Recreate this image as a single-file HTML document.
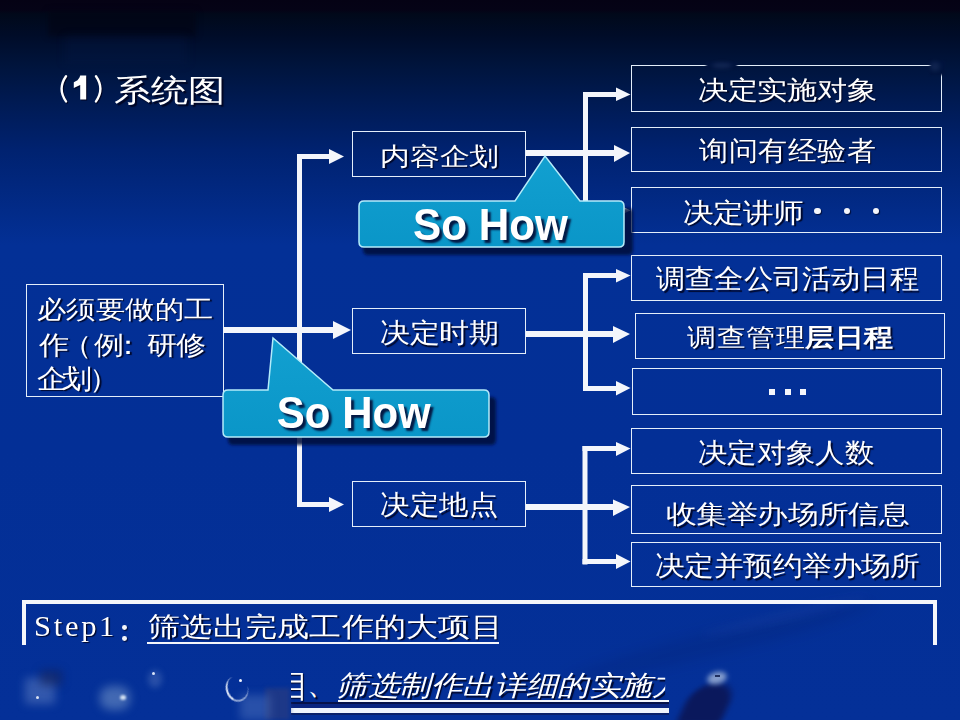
<!DOCTYPE html>
<html><head><meta charset="utf-8">
<style>
html,body{margin:0;padding:0;}
body{width:960px;height:720px;overflow:hidden;position:relative;
 font-family:"Liberation Sans", sans-serif;
 background:linear-gradient(to bottom,rgb(5,2,20) 0px,rgb(5,3,22) 10px,rgb(1,9,26) 14px,rgb(0,12,40) 35px,rgb(0,20,60) 65px,rgb(0,34,112) 150px,rgb(3,48,150) 245px,rgb(3,47,150) 450px,rgb(4,48,152) 720px);}
.box{position:absolute;box-sizing:border-box;border:1.7px solid #e4eefa;}
.t{position:absolute;color:#fff;white-space:nowrap;text-shadow:1.5px 1.5px 1px rgba(0,0,25,0.85);}
.ul{position:absolute;background:#f4f6fb;}
.t{transform-origin:0 0;}
.dot{position:absolute;width:6.2px;height:6.2px;border-radius:50%;background:#f4f6fb;box-shadow:1px 1px 1px rgba(0,0,25,0.7);}
svg{position:absolute;left:0;top:0;}
</style></head><body>

<div style="position:absolute;left:560px;top:630px;width:320px;height:24px;background:rgba(0,12,70,0.13);transform:rotate(-14deg);border-radius:50%;filter:blur(7px);"></div>
<div style="position:absolute;left:700px;top:612px;width:170px;height:8px;background:rgba(90,130,230,0.10);transform:rotate(-13deg);border-radius:50%;filter:blur(4px);"></div>
<!-- left box -->
<div class="box" style="left:26px;top:284px;width:198px;height:113px;"></div>
<!-- middle boxes -->
<div class="box" style="left:352px;top:131px;width:174px;height:46px;"></div>
<div class="box" style="left:352px;top:308px;width:174px;height:46px;"></div>
<div class="box" style="left:352px;top:481px;width:174px;height:46px;"></div>
<!-- right boxes -->
<div class="box" style="left:631px;top:65px;width:311px;height:47px;"></div>
<div class="box" style="left:631px;top:127px;width:311px;height:45px;"></div>
<div class="box" style="left:631px;top:187px;width:311px;height:46px;"></div>
<div class="box" style="left:631px;top:255px;width:311px;height:46px;"></div>
<div class="box" style="left:635px;top:313px;width:310px;height:46px;"></div>
<div class="box" style="left:632px;top:368px;width:310px;height:47px;"></div>
<div class="box" style="left:631px;top:428px;width:311px;height:46px;"></div>
<div class="box" style="left:631px;top:485px;width:311px;height:49px;"></div>
<div class="box" style="left:631px;top:542px;width:310px;height:45px;"></div>

<div style="position:absolute;left:706px;top:62px;width:31px;height:7px;background:rgb(1,20,62);filter:blur(1.2px);"></div>
<div style="position:absolute;left:712px;top:63px;width:20px;height:5px;background:rgba(80,100,150,0.25);border-radius:50%;filter:blur(2px);"></div>
<div style="position:absolute;left:930px;top:61px;width:15px;height:14px;background:rgb(1,20,62);filter:blur(1.2px);"></div>
<div style="position:absolute;left:930px;top:62px;width:10px;height:9px;background:rgba(80,100,150,0.2);border-radius:50%;filter:blur(2px);"></div>
<svg width="960" height="720" viewBox="0 0 960 720">
 <defs>
  <linearGradient id="cg" x1="0" y1="0" x2="0" y2="1">
   <stop offset="0" stop-color="rgb(18,160,208)"/>
   <stop offset="1" stop-color="rgb(10,150,200)"/>
  </linearGradient>
  <filter id="bl" x="-10%" y="-30%" width="120%" height="160%"><feGaussianBlur stdDeviation="1.6"/></filter>
 </defs>
 <g fill="#f4f6fb">
  <rect x="223" y="327" width="112" height="6"/>
  <polygon points="333,321 351,330 333,339"/>
  <rect x="297" y="154" width="5" height="353"/>
  <rect x="297" y="154" width="34" height="5"/>
  <polygon points="329,149 344,156.5 329,164"/>
  <rect x="297" y="502" width="34" height="5"/>
  <polygon points="329,497 344,504.5 329,512"/>
  <rect x="526" y="150" width="90" height="6"/>
  <polygon points="614,145 630,153 614,162"/>
  <rect x="583" y="92" width="5" height="121"/>
  <rect x="583" y="92" width="35" height="5"/>
  <polygon points="616,87.5 630.5,94.5 616,101"/>
  <rect x="583" y="208" width="35" height="5"/>
  <polygon points="616,203.5 630.5,210.5 616,217"/>
  <rect x="526" y="331" width="90" height="6"/>
  <polygon points="613,326 630,334 613,343"/>
  <rect x="583" y="273" width="5" height="118"/>
  <rect x="583" y="273" width="35" height="5"/>
  <polygon points="616,269 630.5,275.5 616,282.5"/>
  <rect x="583" y="386" width="35" height="5"/>
  <polygon points="616,381 630.5,388 616,395.5"/>
  <rect x="526" y="504" width="90" height="6"/>
  <polygon points="613,499.5 630,507 613,516"/>
  <rect x="582.5" y="446" width="5" height="118.5"/>
  <rect x="582.5" y="446" width="35" height="5"/>
  <polygon points="616,442 630.5,448.5 616,456"/>
  <rect x="582.5" y="559" width="35" height="5"/>
  <polygon points="616,554 630.5,561.5 616,569"/>
 </g>
 <path d="M368,208 H520 L550,163 L585,208 H628 Q633,208 633,213 V249 Q633,255 628,255 H368 Q363,255 363,249 V213 Q363,208 368,208 Z" fill="#040c3a" opacity="0.85" filter="url(#bl)"/>
 <path d="M364,201 H515 L545,156 L580,201 H619 Q624,201 624,206 V242 Q624,247 619,247 H364 Q359,247 359,242 V206 Q359,201 364,201 Z" fill="url(#cg)" stroke="#b4ecfa" stroke-width="1.5"/>
 <path d="M233,397 H272 L277,345 L337,397 H491 Q496,397 496,402 V439 Q496,445 491,445 H233 Q228,445 228,439 V402 Q228,397 233,397 Z" fill="#040c3a" opacity="0.85" filter="url(#bl)"/>
 <path d="M228,390 H268 L273,338 L333,390 H484 Q489,390 489,395 V432 Q489,437 484,437 H228 Q223,437 223,432 V395 Q223,390 228,390 Z" fill="url(#cg)" stroke="#b4ecfa" stroke-width="1.5"/>
 
  <g fill="none" stroke="#fff" stroke-width="2.4" stroke-linecap="round" style="filter:drop-shadow(1.5px 1.5px 0.5px rgba(0,0,25,0.85))">
   <path d="M66,76.2 Q57.2,88.8 66,101.4"/>
   <path d="M96,76.2 Q104.8,88.8 96,101.4"/>
  </g>
  <polygon points="80.2,75.4 86.2,75.4 86.2,99.6 80.2,99.6 80.2,85 73.8,88 73.8,82.2 77.5,80.2 79.5,77.5" fill="#fff" style="filter:drop-shadow(1.5px 1.5px 0.5px rgba(0,0,25,0.85))"/>
</svg>

<!-- step box -->
<div class="ul" style="left:22px;top:600px;width:915px;height:4px;"></div>
<div class="ul" style="left:22px;top:600px;width:4px;height:45px;"></div>
<div class="ul" style="left:933px;top:600px;width:4px;height:45px;"></div>
<div class="ul" style="left:146.5px;top:642px;width:352.5px;height:2.4px;"></div>
<!-- bottom -->
<div style="position:absolute;left:290.5px;top:701.5px;width:378px;height:2px;background:#06124a;"></div>
<div style="position:absolute;left:290.5px;top:703.5px;width:378px;height:5px;background:#0a2580;"></div>
<div class="ul" style="left:290.5px;top:708.3px;width:378px;height:5px;background:#eef4fc;"></div>
<div style="position:absolute;left:290.5px;top:713.3px;width:378px;height:2.2px;background:#08206a;"></div>
<div class="ul" style="left:338px;top:700.2px;width:331px;height:1.6px;"></div>
<div class="dot" style="left:814.4px;top:208.2px;"></div><div class="dot" style="left:843.5px;top:208.2px;"></div><div class="dot" style="left:872.5px;top:208.2px;"></div>
<div class="dot" style="left:121.8px;top:625.3px;width:4.8px;height:4.8px;"></div><div class="dot" style="left:121.8px;top:636.1px;width:4.8px;height:4.8px;"></div>
<!-- watermark blobs -->
<div style="position:absolute;left:35.5px;top:695.5px;width:3px;height:3px;border-radius:50%;background:#fff;filter:blur(0.4px);"></div>
<div style="position:absolute;left:120px;top:694.5px;width:6px;height:5px;border-radius:50%;background:#f4f8ff;filter:blur(0.8px);"></div>
<div style="position:absolute;left:151.5px;top:671.5px;width:3px;height:3px;border-radius:50%;background:#e8f0ff;filter:blur(0.5px);"></div>
<div style="position:absolute;left:148px;top:670px;width:14px;height:18px;border-radius:50%;background:rgba(150,175,220,0.25);filter:blur(3px);"></div>
<div style="position:absolute;left:226px;top:676px;width:22px;height:26px;border-radius:50%;border-left:2.5px solid rgba(240,245,255,0.9);border-bottom:2px solid rgba(240,245,255,0.6);box-sizing:border-box;transform:rotate(-20deg);filter:blur(0.6px);"></div>
<div style="position:absolute;left:238.5px;top:678.5px;width:3px;height:3px;border-radius:50%;background:#f0f4ff;filter:blur(0.4px);"></div>

<div style="position:absolute;left:48px;top:11px;width:148px;height:25px;background:rgba(2,4,18,0.6);filter:blur(3px);"></div>
<div style="position:absolute;left:65px;top:36px;width:122px;height:28px;background:rgba(3,30,80,0.2);filter:blur(4px);"></div>
<div style="position:absolute;left:685px;top:683px;width:44px;height:42px;border-radius:50% 50% 10% 10%;background:rgb(10,24,92);transform:skewX(-25deg);filter:blur(3px);"></div>
<div style="position:absolute;left:707px;top:672px;width:20px;height:12px;border-radius:50%;background:rgba(190,205,230,0.7);transform:rotate(-15deg);filter:blur(2.5px);"></div>
<div style="position:absolute;left:715px;top:675px;width:5px;height:2px;background:#203060;"></div>
<div style="position:absolute;left:265px;top:688px;width:25px;height:32px;background:rgba(40,60,130,0.7);filter:blur(2px);"></div>
<div style="position:absolute;left:240px;top:695px;width:30px;height:25px;background:rgba(110,140,200,0.35);filter:blur(4px);"></div>
<div style="position:absolute;left:25px;top:678px;width:30px;height:26px;background:rgba(140,165,215,0.35);filter:blur(5px);"></div>
<div style="position:absolute;left:100px;top:686px;width:30px;height:24px;border-radius:40%;background:rgba(160,190,220,0.4);filter:blur(5px);"></div>
<div style="position:absolute;left:40px;top:670px;width:22px;height:16px;background:rgba(20,30,80,0.5);filter:blur(4px);"></div>
<div class="ul" style="left:768.5px;top:388.5px;width:6px;height:6.5px;"></div>
<div class="ul" style="left:784.5px;top:388.5px;width:6px;height:6.5px;"></div>
<div class="ul" style="left:800px;top:388.5px;width:6px;height:6.5px;"></div>
<div class="t" style="left:114.00px;top:75.50px;font-size:29px;line-height:29px;transform:scale(1.2701,1.0572);">系统图</div>
<div class="t" style="left:36.70px;top:296.70px;font-size:29px;line-height:29px;transform:scale(1.0151,0.8654);">必须要做的工</div>
<div class="t" style="left:379.70px;top:144.00px;font-size:29px;line-height:29px;transform:scale(1.0268,0.8585);">内容企划</div>
<div class="t" style="left:379.60px;top:320.40px;font-size:29px;line-height:29px;transform:scale(1.0248,0.9219);">决定时期</div>
<div class="t" style="left:379.60px;top:491.90px;font-size:29px;line-height:29px;transform:scale(1.0193,0.9367);">决定地点</div>
<div class="t" style="left:698.40px;top:78.00px;font-size:29px;line-height:29px;transform:scale(1.0246,0.8805);">决定实施对象</div>
<div class="t" style="left:699.00px;top:136.50px;font-size:29px;line-height:29px;transform:scale(1.0173,0.9465);">询问有经验者</div>
<div class="t" style="left:682.75px;top:200.40px;font-size:29px;line-height:29px;transform:scale(1.0395,0.9144);">决定讲师</div>
<div class="t" style="left:655.60px;top:266.00px;font-size:29px;line-height:29px;transform:scale(1.0069,0.9286);">调查全公司活动日程</div>
<div class="t" style="left:687.00px;top:324.80px;font-size:29px;line-height:29px;transform:scale(1.0197,0.8786);">调查管理<b>层日程</b></div>
<div class="t" style="left:698.00px;top:440.00px;font-size:29px;line-height:29px;transform:scale(1.0117,0.9286);">决定对象人数</div>
<div class="t" style="left:665.50px;top:501.60px;font-size:29px;line-height:29px;transform:scale(1.0478,0.8862);">收集举办场所信息</div>
<div class="t" style="left:654.60px;top:553.00px;font-size:29px;line-height:29px;transform:scale(1.0147,0.9219);">决定并预约举办场所</div>
<div class="t" style="left:412.50px;top:203.50px;font-size:42px;line-height:42px;transform:scale(1.0065,1.0348);font-weight:bold;text-shadow:3px 3px 2px rgba(4,18,60,0.95);">So How</div>
<div class="t" style="left:276.80px;top:391.30px;font-size:42px;line-height:42px;transform:scale(1.0000,1.0621);font-weight:bold;text-shadow:3px 3px 2px rgba(4,18,60,0.95);">So How</div>
<div class="t" style="left:33.50px;top:611.20px;font-size:34px;line-height:34px;transform:scale(0.8989,0.8935);font-family:'Liberation Serif',serif;letter-spacing:3px;">Step1</div>
<div class="t" style="left:148.40px;top:613.40px;font-size:29px;line-height:29px;transform:scale(1.1128,0.9381);">筛选出完成工作的大项目</div>
<div class="t" style="left:290.60px;top:669.50px;font-size:29px;line-height:29px;transform:scale(1.0000,1.1157);"><span style='display:inline-block;width:15px;overflow:hidden;vertical-align:top;'><span style='display:inline-block;margin-left:-11px;'>目</span></span></div>
<div class="t" style="left:307.00px;top:670.00px;font-size:29px;line-height:29px;transform:scale(1.0000,1.0000);">、</div>
<div class="t" style="left:335.75px;top:672.00px;font-size:29px;line-height:29px;transform:scale(1.0900,0.9643);font-style:italic;"><span style='display:inline-block;width:302px;overflow:hidden;vertical-align:top;'>筛选制作出详细的实施方</span></div>
<div class="t" style="left:38.70px;top:332.70px;font-size:29px;line-height:29px;transform:scale(1.0200,0.8806);">作</div>
<div class="t" style="left:62.00px;top:332.70px;font-size:29px;line-height:29px;transform:scale(1.0200,0.8806);">（</div>
<div class="t" style="left:93.60px;top:332.70px;font-size:29px;line-height:29px;transform:scale(1.0200,0.8806);">例</div>
<div class="t" style="left:113.00px;top:332.70px;font-size:29px;line-height:29px;transform:scale(1.0200,0.8806);">：</div>
<div class="t" style="left:146.50px;top:332.70px;font-size:29px;line-height:29px;transform:scale(1.0200,0.8806);">研</div>
<div class="t" style="left:175.50px;top:332.70px;font-size:29px;line-height:29px;transform:scale(1.0200,0.8806);">修</div>
<div class="t" style="left:36.70px;top:366.40px;font-size:29px;line-height:29px;transform:scale(1.0200,0.9144);">企</div>
<div class="t" style="left:61.80px;top:366.40px;font-size:29px;line-height:29px;transform:scale(1.0200,0.9144);">划</div>
<div class="t" style="left:88.60px;top:366.40px;font-size:29px;line-height:29px;transform:scale(1.0200,0.9144);">）</div>
</body></html>
